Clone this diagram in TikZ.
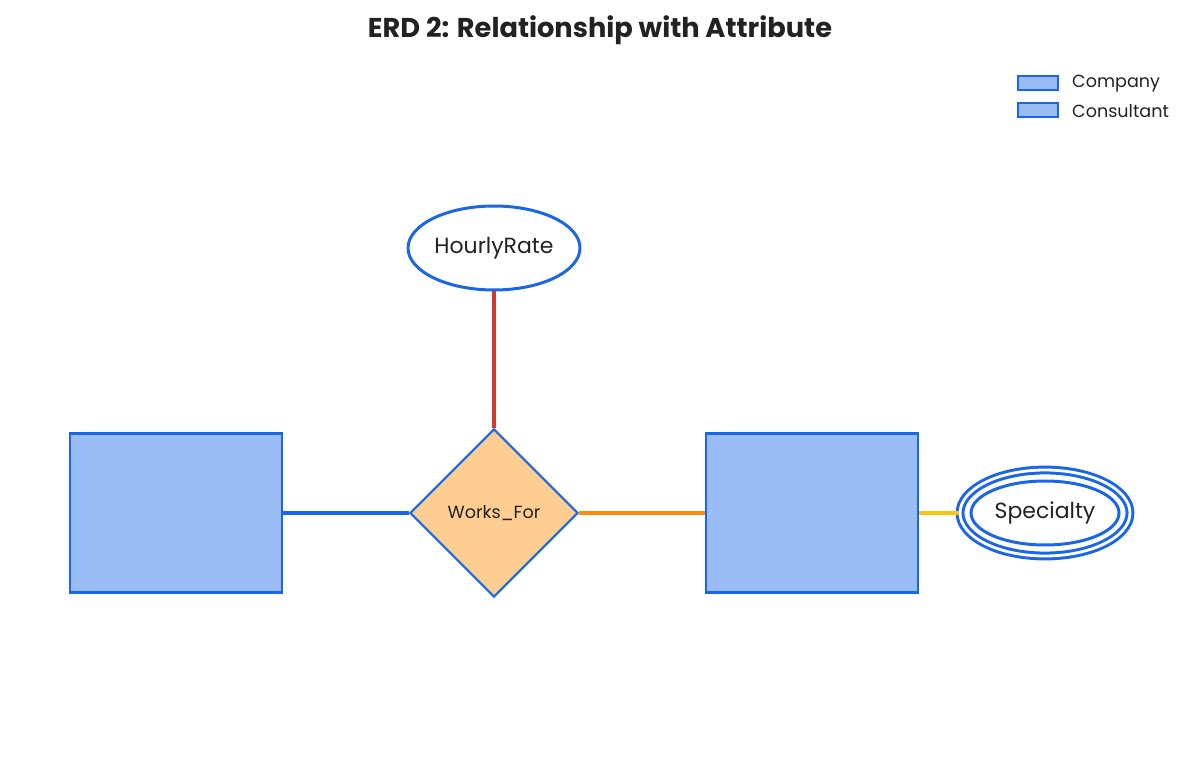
\documentclass[tikz,border=0pt]{standalone}
\usepackage{fontspec}
\setmainfont{Poppins}
\usetikzlibrary{shapes.geometric}
\definecolor{eblue}{HTML}{1A66E6}
\definecolor{efill}{HTML}{9BBDF5}
\definecolor{dfill}{HTML}{FDCD92}
\definecolor{ered}{HTML}{D03A36}
\definecolor{eorange}{HTML}{FB8C12}
\definecolor{eyellow}{HTML}{F5C518}
\definecolor{etext}{HTML}{222222}
\begin{document}
\begin{tikzpicture}[x=0.02cm,y=-0.02cm,
  ent/.style={draw=eblue,fill=efill,line width=1.2pt,minimum width=4.24cm,minimum height=3.18cm,inner sep=0},
  attr/.style={ellipse,draw=eblue,fill=white,line width=1.7pt,minimum width=3.44cm,minimum height=1.68cm,inner sep=0,text=etext,font=\fontsize{12.5}{14}\selectfont},
  lnk/.style={line width=2.2pt}]
\useasboundingbox (0,0) rectangle (1200,763);
\node[font=\bfseries\fontsize{15.5}{18}\selectfont,text=etext] (title) at (600,30) {ERD 2: Relationship with Attribute};
\node[draw=eblue,fill=efill,line width=1.1pt,minimum width=0.8cm,minimum height=0.28cm,inner sep=0] (lg1) at (1038,83) {};
\node[draw=eblue,fill=efill,line width=1.1pt,minimum width=0.8cm,minimum height=0.28cm,inner sep=0] (lg2) at (1038,110) {};
\node[anchor=west,font=\fontsize{10}{12}\selectfont,text=etext] (lt1) at (1066,84) {Company};
\node[anchor=west,font=\fontsize{10}{12}\selectfont,text=etext] (lt2) at (1066,111) {Consultant};
\node[ent] (company) at (176,513) {};
\node[ent] (consultant) at (812,513) {};
\node[diamond,draw=eblue,fill=dfill,line width=1.2pt,minimum width=3.36cm,minimum height=3.36cm,inner sep=0,aspect=1,text=etext,font=\fontsize{10}{12}\selectfont] (works) at (494,513) {Works\_For};
\node[attr] (rate) at (494,248) {HourlyRate};
\node[attr,double=white,double distance=1.6pt,minimum width=3.4cm,minimum height=1.72cm] (spec) at (1045,513) {};
\node[ellipse,draw=eblue,line width=1.7pt,minimum width=2.96cm,minimum height=1.28cm,inner sep=0,text=etext,font=\fontsize{12.5}{14}\selectfont] (spec2) at (1045,513) {Specialty};
\draw[lnk,ered] (rate) -- (works);
\draw[lnk,eblue] (company) -- (works);
\draw[lnk,eorange] (works) -- (consultant);
\draw[lnk,eyellow] (consultant) -- (spec);
\end{tikzpicture}
\end{document}
